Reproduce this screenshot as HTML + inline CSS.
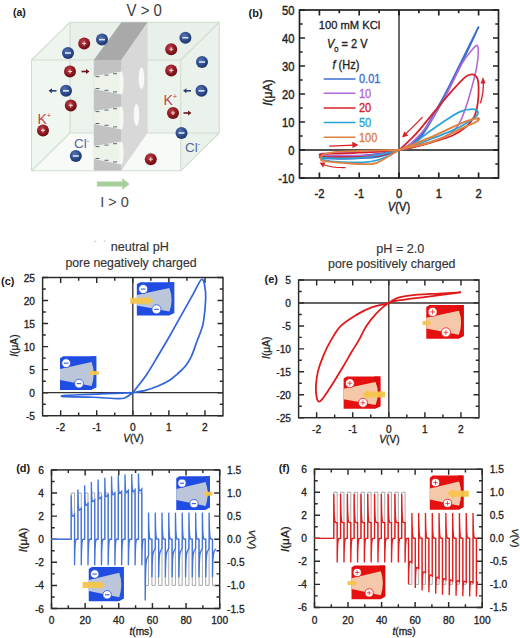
<!DOCTYPE html><html><head><meta charset="utf-8"><style>html,body{margin:0;padding:0;background:#fff;overflow:hidden}svg{display:block}</style></head><body>
<svg width="520" height="638" viewBox="0 0 520 638" font-family='"Liberation Sans", sans-serif'>
<defs>
<radialGradient id="gred" cx="0.4" cy="0.35" r="0.7"><stop offset="0" stop-color="#b8404a"/><stop offset="0.6" stop-color="#8c1820"/><stop offset="1" stop-color="#5e0c12"/></radialGradient>
<radialGradient id="gblue" cx="0.4" cy="0.35" r="0.7"><stop offset="0" stop-color="#5572b0"/><stop offset="0.6" stop-color="#2c4a8a"/><stop offset="1" stop-color="#1a3066"/></radialGradient>
</defs>
<rect width="520" height="638" fill="#fff"/>
<text transform="translate(13.00,16.00) scale(1,1.05)" font-size="10.5" text-anchor="start" fill="#1a1a1a" font-weight="bold" font-style="normal" >(a)</text>
<text transform="translate(144.20,15.60) scale(1,1.05)" font-size="15" text-anchor="middle" fill="#3a3a3a" font-weight="normal" font-style="normal" >V &gt; 0</text>
<path d="M70,22.3 H219.2 V133 H70Z" fill="#e9f0e9"/>
<path d="M31.5,60 L70,22.3 V133 L31.5,170.8Z" fill="#eef4ee"/>
<path d="M31.5,170.8 L70,133 H219.2 L180.8,170.8Z" fill="#fafbfa"/>
<path d="M180.8,60 L219.2,22.3 V133 L180.8,170.8Z" fill="#ebf2eb"/>
<rect x="31.5" y="60" width="149.3" height="110.8" fill="#f4f8f4" opacity="0.35"/>
<path d="M70,22.3 H219.2 V133 H70Z M31.5,60 L70,22.3 M219.2,22.3 L180.8,60 M31.5,170.8 L70,133 M219.2,133 L180.8,170.8 M31.5,60 H180.8 V170.8 H31.5Z" fill="none" stroke="#d0dcd0" stroke-width="1.1"/>
<path d="M93.8,60 L121.4,22.3 H147.7 L121.4,60Z" fill="#a9a9a9"/>
<path d="M121.4,60 L147.7,22.3 V132.8 L121.4,170.6Z" fill="#d8d8d8"/>
<rect x="93.8" y="60" width="27.6" height="110.6" fill="#c2c2c2"/>
<path d="M93.8,76 L121.4,71.5 V94.4 L93.8,89Z" fill="#eef3ea"/>
<ellipse cx="121.4" cy="83.0" rx="2.2" ry="11.5" fill="#f6f8f4"/>
<path d="M95.5,76.6h4M95.5,88.5h4" stroke="#5a6a7a" stroke-width="1"/>
<path d="M104.5,75.1h4M104.5,90.3h4" stroke="#5a6a7a" stroke-width="1"/>
<path d="M113.0,73.7h4M113.0,91.9h4" stroke="#5a6a7a" stroke-width="1"/>
<path d="M93.8,111 L121.4,106.5 V129.4 L93.8,124Z" fill="#eef3ea"/>
<ellipse cx="121.4" cy="118.0" rx="2.2" ry="11.5" fill="#f6f8f4"/>
<path d="M95.5,111.6h4M95.5,123.5h4" stroke="#5a6a7a" stroke-width="1"/>
<path d="M104.5,110.1h4M104.5,125.3h4" stroke="#5a6a7a" stroke-width="1"/>
<path d="M113.0,108.7h4M113.0,126.9h4" stroke="#5a6a7a" stroke-width="1"/>
<path d="M93.8,146 L121.4,141.5 V164.4 L93.8,159Z" fill="#eef3ea"/>
<ellipse cx="121.4" cy="152.9" rx="2.2" ry="11.5" fill="#f6f8f4"/>
<path d="M95.5,146.6h4M95.5,158.5h4" stroke="#5a6a7a" stroke-width="1"/>
<path d="M104.5,145.1h4M104.5,160.3h4" stroke="#5a6a7a" stroke-width="1"/>
<path d="M113.0,143.7h4M113.0,161.9h4" stroke="#5a6a7a" stroke-width="1"/>
<ellipse cx="141.5" cy="78.3" rx="2.8" ry="11" fill="#f8f8f8"/>
<ellipse cx="136.5" cy="115" rx="2.8" ry="11" fill="#f8f8f8"/>
<circle cx="84.2" cy="43.5" r="6.0" fill="url(#gred)"/>
<path d="M82.2,43.5h4M84.2,41.5v4" stroke="#f4d0d0" stroke-width="1.1"/>
<circle cx="70" cy="71.5" r="6.0" fill="url(#gred)"/>
<path d="M68.0,71.5h4M70.0,69.5v4" stroke="#f4d0d0" stroke-width="1.1"/>
<circle cx="70.8" cy="105.4" r="6.0" fill="url(#gred)"/>
<path d="M68.8,105.4h4M70.8,103.4v4" stroke="#f4d0d0" stroke-width="1.1"/>
<circle cx="43" cy="130.4" r="6.0" fill="url(#gred)"/>
<path d="M41.0,130.4h4M43.0,128.4v4" stroke="#f4d0d0" stroke-width="1.1"/>
<circle cx="171.2" cy="49.2" r="6.0" fill="url(#gred)"/>
<path d="M169.2,49.2h4M171.2,47.2v4" stroke="#f4d0d0" stroke-width="1.1"/>
<circle cx="171.2" cy="70.4" r="6.0" fill="url(#gred)"/>
<path d="M169.2,70.4h4M171.2,68.4v4" stroke="#f4d0d0" stroke-width="1.1"/>
<circle cx="173" cy="113" r="6.0" fill="url(#gred)"/>
<path d="M171.0,113.0h4M173.0,111.0v4" stroke="#f4d0d0" stroke-width="1.1"/>
<circle cx="150.8" cy="159.2" r="6.0" fill="url(#gred)"/>
<path d="M148.8,159.2h4M150.8,157.2v4" stroke="#f4d0d0" stroke-width="1.1"/>
<circle cx="102" cy="39.6" r="6.0" fill="url(#gblue)"/>
<path d="M99.0,39.6h6" stroke="#dde4f4" stroke-width="1.6"/>
<circle cx="68" cy="53" r="6.0" fill="url(#gblue)"/>
<path d="M65.0,53.0h6" stroke="#dde4f4" stroke-width="1.6"/>
<circle cx="66" cy="90.8" r="6.0" fill="url(#gblue)"/>
<path d="M63.0,90.8h6" stroke="#dde4f4" stroke-width="1.6"/>
<circle cx="75.8" cy="156" r="6.0" fill="url(#gblue)"/>
<path d="M72.8,156.0h6" stroke="#dde4f4" stroke-width="1.6"/>
<circle cx="185.4" cy="37.7" r="6.0" fill="url(#gblue)"/>
<path d="M182.4,37.7h6" stroke="#dde4f4" stroke-width="1.6"/>
<circle cx="202" cy="62" r="6.0" fill="url(#gblue)"/>
<path d="M199.0,62.0h6" stroke="#dde4f4" stroke-width="1.6"/>
<circle cx="201.5" cy="90.8" r="6.0" fill="url(#gblue)"/>
<path d="M198.5,90.8h6" stroke="#dde4f4" stroke-width="1.6"/>
<circle cx="181.5" cy="133" r="6.0" fill="url(#gblue)"/>
<path d="M178.5,133.0h6" stroke="#dde4f4" stroke-width="1.6"/>
<path d="M81.5,71.5 H86.5" stroke="#6a1a1e" stroke-width="1.6"/>
<path d="M89.5,71.5 L86.0,69.0 L86.0,74.0Z" fill="#6a1a1e"/>
<path d="M56.5,90.8 H51.5" stroke="#2a3e70" stroke-width="1.6"/>
<path d="M48.5,90.8 L52.0,88.3 L52.0,93.3Z" fill="#2a3e70"/>
<path d="M191,90.8 H186" stroke="#2a3e70" stroke-width="1.6"/>
<path d="M183,90.8 L186.5,88.3 L186.5,93.3Z" fill="#2a3e70"/>
<path d="M183.5,113 H188.5" stroke="#6a1a1e" stroke-width="1.6"/>
<path d="M191.5,113 L188.0,110.5 L188.0,115.5Z" fill="#6a1a1e"/>
<text transform="translate(37.50,123.50)" font-size="14" text-anchor="start" fill="#b84a48" font-weight="normal" font-style="normal" >K<tspan font-size="7.5" dy="-5.5">+</tspan></text>
<text transform="translate(163.50,104.50)" font-size="14" text-anchor="start" fill="#b84a48" font-weight="normal" font-style="normal" >K<tspan font-size="7.5" dy="-5.5">+</tspan></text>
<text transform="translate(74.00,148.00)" font-size="13.5" text-anchor="start" fill="#56689a" font-weight="normal" font-style="normal" >Cl<tspan font-size="7" dy="-5.5">-</tspan></text>
<text transform="translate(185.00,151.80)" font-size="13.5" text-anchor="start" fill="#56689a" font-weight="normal" font-style="normal" >Cl<tspan font-size="7" dy="-5.5">-</tspan></text>
<path d="M96.9,181.5 H122.3 V178 L129.5,184 L122.3,190 V186.5 H96.9Z" fill="#a6cf9c"/>
<text transform="translate(114.50,207.20) scale(1,1.03)" font-size="14.5" text-anchor="middle" fill="#444" font-weight="normal" font-style="normal" >I &gt; 0</text>
<text transform="translate(248.60,17.40) scale(1,1.05)" font-size="11" text-anchor="start" fill="#1a1a1a" font-weight="bold" font-style="normal" >(b)</text>
<rect x="299.50" y="10.00" width="199.00" height="168.00" fill="none" stroke="#222" stroke-width="1.7"/>
<path d="M319.40,178.00v-5.5 M319.40,10.00v5.5 M359.20,178.00v-5.5 M359.20,10.00v5.5 M399.00,178.00v-5.5 M399.00,10.00v5.5 M438.80,178.00v-5.5 M438.80,10.00v5.5 M478.60,178.00v-5.5 M478.60,10.00v5.5 M339.30,178.00v-3.2 M339.30,10.00v3.2 M379.10,178.00v-3.2 M379.10,10.00v3.2 M418.90,178.00v-3.2 M418.90,10.00v3.2 M458.70,178.00v-3.2 M458.70,10.00v3.2 M299.50,178.00h5.5 M498.50,178.00h-5.5 M299.50,150.00h5.5 M498.50,150.00h-5.5 M299.50,122.00h5.5 M498.50,122.00h-5.5 M299.50,94.00h5.5 M498.50,94.00h-5.5 M299.50,66.00h5.5 M498.50,66.00h-5.5 M299.50,38.00h5.5 M498.50,38.00h-5.5 M299.50,10.00h5.5 M498.50,10.00h-5.5 M299.50,164.00h3.2 M498.50,164.00h-3.2 M299.50,136.00h3.2 M498.50,136.00h-3.2 M299.50,108.00h3.2 M498.50,108.00h-3.2 M299.50,80.00h3.2 M498.50,80.00h-3.2 M299.50,52.00h3.2 M498.50,52.00h-3.2 M299.50,24.00h3.2 M498.50,24.00h-3.2 " stroke="#222" stroke-width="1.7" fill="none"/>
<path d="M399.00,10V178 M299.5,150.00H498.5" stroke="#1a1a1a" stroke-width="1.3"/>
<text transform="translate(294.50,14.60) scale(1,1.18)" font-size="11.2" text-anchor="end" fill="#222" font-weight="normal" font-style="normal" stroke="#222" stroke-width="0.35" >50</text>
<text transform="translate(294.50,42.60) scale(1,1.18)" font-size="11.2" text-anchor="end" fill="#222" font-weight="normal" font-style="normal" stroke="#222" stroke-width="0.35" >40</text>
<text transform="translate(294.50,70.60) scale(1,1.18)" font-size="11.2" text-anchor="end" fill="#222" font-weight="normal" font-style="normal" stroke="#222" stroke-width="0.35" >30</text>
<text transform="translate(294.50,98.60) scale(1,1.18)" font-size="11.2" text-anchor="end" fill="#222" font-weight="normal" font-style="normal" stroke="#222" stroke-width="0.35" >20</text>
<text transform="translate(294.50,126.60) scale(1,1.18)" font-size="11.2" text-anchor="end" fill="#222" font-weight="normal" font-style="normal" stroke="#222" stroke-width="0.35" >10</text>
<text transform="translate(294.50,154.60) scale(1,1.18)" font-size="11.2" text-anchor="end" fill="#222" font-weight="normal" font-style="normal" stroke="#222" stroke-width="0.35" >0</text>
<text transform="translate(294.50,182.60) scale(1,1.18)" font-size="11.2" text-anchor="end" fill="#222" font-weight="normal" font-style="normal" stroke="#222" stroke-width="0.35" >-10</text>
<text transform="translate(319.40,197.50) scale(1,1.18)" font-size="11.2" text-anchor="middle" fill="#222" font-weight="normal" font-style="normal" stroke="#222" stroke-width="0.35" >-2</text>
<text transform="translate(359.20,197.50) scale(1,1.18)" font-size="11.2" text-anchor="middle" fill="#222" font-weight="normal" font-style="normal" stroke="#222" stroke-width="0.35" >-1</text>
<text transform="translate(399.00,197.50) scale(1,1.18)" font-size="11.2" text-anchor="middle" fill="#222" font-weight="normal" font-style="normal" stroke="#222" stroke-width="0.35" >0</text>
<text transform="translate(438.80,197.50) scale(1,1.18)" font-size="11.2" text-anchor="middle" fill="#222" font-weight="normal" font-style="normal" stroke="#222" stroke-width="0.35" >1</text>
<text transform="translate(478.60,197.50) scale(1,1.18)" font-size="11.2" text-anchor="middle" fill="#222" font-weight="normal" font-style="normal" stroke="#222" stroke-width="0.35" >2</text>
<text transform="translate(399.00,210.50) scale(1,1.18)" font-size="11.2" text-anchor="middle" fill="#222" font-weight="normal" font-style="normal" stroke="#222" stroke-width="0.35" ><tspan font-style="italic">V</tspan>(V)</text>
<text transform="translate(271.70,92.70) rotate(-90)" font-size="12" text-anchor="middle" fill="#222" font-weight="normal" font-style="normal" stroke="#222" stroke-width="0.35" ><tspan font-style="italic">I</tspan>(μA)</text>
<text transform="translate(349.50,28.80) scale(1,1.05)" font-size="11.2" text-anchor="middle" fill="#222" font-weight="normal" font-style="normal" stroke="#222" stroke-width="0.3" >100 mM KCl</text>
<text transform="translate(327.00,47.50) scale(1,1.08)" font-size="11" text-anchor="start" fill="#222" font-weight="normal" font-style="normal" stroke="#222" stroke-width="0.3" ><tspan font-style="italic">V</tspan><tspan font-size="7.5" dy="4.5">0</tspan><tspan dy="-4.5"> = 2 V</tspan></text>
<text transform="translate(332.50,69.40) scale(1,1.1)" font-size="11" text-anchor="start" fill="#222" font-weight="normal" font-style="normal" stroke="#222" stroke-width="0.3" ><tspan font-style="italic">f</tspan> (Hz)</text>
<path d="M323.7,79H355.5" stroke="#3b6fd0" stroke-width="1.6"/>
<text transform="translate(359.00,83.30) scale(1,1.15)" font-size="11" text-anchor="start" fill="#3b6fd0" font-weight="normal" font-style="normal" stroke="#3b6fd0" stroke-width="0.3" >0.01</text>
<path d="M323.7,93.3H355.5" stroke="#b46ad8" stroke-width="1.6"/>
<text transform="translate(359.00,97.60) scale(1,1.15)" font-size="11" text-anchor="start" fill="#b46ad8" font-weight="normal" font-style="normal" stroke="#b46ad8" stroke-width="0.3" >10</text>
<path d="M323.7,108H355.5" stroke="#d8202a" stroke-width="1.6"/>
<text transform="translate(359.00,112.30) scale(1,1.15)" font-size="11" text-anchor="start" fill="#d8202a" font-weight="normal" font-style="normal" stroke="#d8202a" stroke-width="0.3" >20</text>
<path d="M323.7,122.5H355.5" stroke="#2aa4d8" stroke-width="1.6"/>
<text transform="translate(359.00,126.80) scale(1,1.15)" font-size="11" text-anchor="start" fill="#2aa4d8" font-weight="normal" font-style="normal" stroke="#2aa4d8" stroke-width="0.3" >50</text>
<path d="M323.7,137.2H355.5" stroke="#de8040" stroke-width="1.6"/>
<text transform="translate(359.00,141.50) scale(1,1.15)" font-size="11" text-anchor="start" fill="#de8040" font-weight="normal" font-style="normal" stroke="#de8040" stroke-width="0.3" >100</text>
<text transform="translate(1.00,284.50) scale(1,1.05)" font-size="11" text-anchor="start" fill="#1a1a1a" font-weight="bold" font-style="normal" >(c)</text>
<circle cx="95.4" cy="241.4" r="0.9" fill="#d0d0d0"/><circle cx="104.6" cy="241.2" r="0.9" fill="#d8d8d8"/>
<text transform="translate(139.70,250.50) scale(1,1.03)" font-size="12.6" text-anchor="middle" fill="#333" font-weight="normal" font-style="normal" stroke="#333" stroke-width="0.15" >neutral pH</text>
<text transform="translate(131.00,267.20) scale(1,1.03)" font-size="12.3" text-anchor="middle" fill="#333" font-weight="normal" font-style="normal" stroke="#333" stroke-width="0.15" >pore negatively charged</text>
<rect x="42.60" y="277.50" width="180.40" height="138.20" fill="none" stroke="#2a2a2a" stroke-width="1.45"/>
<path d="M60.64,415.70v-5.5 M60.64,277.50v5.5 M96.72,415.70v-5.5 M96.72,277.50v5.5 M132.80,415.70v-5.5 M132.80,277.50v5.5 M168.88,415.70v-5.5 M168.88,277.50v5.5 M204.96,415.70v-5.5 M204.96,277.50v5.5 M78.68,415.70v-3.2 M78.68,277.50v3.2 M114.76,415.70v-3.2 M114.76,277.50v3.2 M150.84,415.70v-3.2 M150.84,277.50v3.2 M186.92,415.70v-3.2 M186.92,277.50v3.2 M42.60,415.70h5.5 M223.00,415.70h-5.5 M42.60,392.67h5.5 M223.00,392.67h-5.5 M42.60,369.63h5.5 M223.00,369.63h-5.5 M42.60,346.60h5.5 M223.00,346.60h-5.5 M42.60,323.57h5.5 M223.00,323.57h-5.5 M42.60,300.53h5.5 M223.00,300.53h-5.5 M42.60,277.50h5.5 M223.00,277.50h-5.5 M42.60,404.18h3.2 M223.00,404.18h-3.2 M42.60,381.15h3.2 M223.00,381.15h-3.2 M42.60,358.12h3.2 M223.00,358.12h-3.2 M42.60,335.08h3.2 M223.00,335.08h-3.2 M42.60,312.05h3.2 M223.00,312.05h-3.2 M42.60,289.02h3.2 M223.00,289.02h-3.2 " stroke="#2a2a2a" stroke-width="1.45" fill="none"/>
<path d="M132.80,277.5V415.7 M42.6,392.67H223" stroke="#333" stroke-width="1.35"/>
<text transform="translate(35.00,281.50) scale(1,1.1)" font-size="10.2" text-anchor="end" fill="#222" font-weight="normal" font-style="normal" stroke="#222" stroke-width="0.3" >25</text>
<text transform="translate(35.00,304.53) scale(1,1.1)" font-size="10.2" text-anchor="end" fill="#222" font-weight="normal" font-style="normal" stroke="#222" stroke-width="0.3" >20</text>
<text transform="translate(35.00,327.57) scale(1,1.1)" font-size="10.2" text-anchor="end" fill="#222" font-weight="normal" font-style="normal" stroke="#222" stroke-width="0.3" >15</text>
<text transform="translate(35.00,350.60) scale(1,1.1)" font-size="10.2" text-anchor="end" fill="#222" font-weight="normal" font-style="normal" stroke="#222" stroke-width="0.3" >10</text>
<text transform="translate(35.00,373.63) scale(1,1.1)" font-size="10.2" text-anchor="end" fill="#222" font-weight="normal" font-style="normal" stroke="#222" stroke-width="0.3" >5</text>
<text transform="translate(35.00,396.67) scale(1,1.1)" font-size="10.2" text-anchor="end" fill="#222" font-weight="normal" font-style="normal" stroke="#222" stroke-width="0.3" >0</text>
<text transform="translate(35.00,419.70) scale(1,1.1)" font-size="10.2" text-anchor="end" fill="#222" font-weight="normal" font-style="normal" stroke="#222" stroke-width="0.3" >-5</text>
<text transform="translate(60.64,431.00) scale(1,1.1)" font-size="10.2" text-anchor="middle" fill="#222" font-weight="normal" font-style="normal" stroke="#222" stroke-width="0.3" >-2</text>
<text transform="translate(96.72,431.00) scale(1,1.1)" font-size="10.2" text-anchor="middle" fill="#222" font-weight="normal" font-style="normal" stroke="#222" stroke-width="0.3" >-1</text>
<text transform="translate(132.80,431.00) scale(1,1.1)" font-size="10.2" text-anchor="middle" fill="#222" font-weight="normal" font-style="normal" stroke="#222" stroke-width="0.3" >0</text>
<text transform="translate(168.88,431.00) scale(1,1.1)" font-size="10.2" text-anchor="middle" fill="#222" font-weight="normal" font-style="normal" stroke="#222" stroke-width="0.3" >1</text>
<text transform="translate(204.96,431.00) scale(1,1.1)" font-size="10.2" text-anchor="middle" fill="#222" font-weight="normal" font-style="normal" stroke="#222" stroke-width="0.3" >2</text>
<text transform="translate(133.50,442.00) scale(1,1.1)" font-size="10.2" text-anchor="middle" fill="#222" font-weight="normal" font-style="normal" stroke="#222" stroke-width="0.3" ><tspan font-style="italic">V</tspan>(V)</text>
<text transform="translate(18.30,345.60) rotate(-90)" font-size="10.2" text-anchor="middle" fill="#222" font-weight="normal" font-style="normal" stroke="#222" stroke-width="0.3" ><tspan font-style="italic">I</tspan>(μA)</text>
<path d="M132.80,392.67 C135.09,389.67 142.30,380.84 146.51,374.70 C150.72,368.56 154.15,362.34 158.06,355.81 C161.96,349.29 166.05,342.38 169.96,335.54 C173.87,328.71 177.60,321.80 181.51,314.81 C185.42,307.83 190.47,299.00 193.41,293.62 C196.36,288.25 197.74,284.95 199.19,282.57 C200.63,280.19 201.17,278.96 202.07,279.34 C202.98,279.73 204.00,281.65 204.60,284.87 C205.20,288.10 205.86,292.63 205.68,298.69 C205.50,304.76 204.36,315.74 203.52,321.26 C202.67,326.79 201.71,328.56 200.63,331.86 C199.55,335.16 198.53,337.08 197.02,341.07 C195.52,345.06 193.53,351.67 191.61,355.81 C189.69,359.96 187.82,362.95 185.48,365.95 C183.13,368.94 180.19,371.40 177.54,373.78 C174.89,376.16 172.85,378.19 169.60,380.23 C166.35,382.26 162.08,384.30 158.06,385.99 C154.03,387.68 149.64,389.25 145.43,390.36 C141.22,391.48 134.90,392.28 132.80,392.67" fill="none" stroke="#3163dc" stroke-width="1.7"/>
<path d="M132.80,392.67 C131.60,393.47 127.99,396.51 125.58,397.50 C123.18,398.50 123.78,398.69 118.37,398.66 C112.96,398.62 101.83,397.62 93.11,397.27 C84.39,396.93 71.34,396.79 66.05,396.58 C60.76,396.38 61.36,396.22 61.36,396.03 C61.36,395.84 63.17,395.65 66.05,395.43 C68.94,395.22 73.57,394.97 78.68,394.74 C83.79,394.51 90.71,394.28 96.72,394.05 C102.73,393.82 108.75,393.59 114.76,393.36 C120.77,393.13 129.79,392.78 132.80,392.67" fill="none" stroke="#3163dc" stroke-width="1.7"/>
<path d="M136.85,284.20 L140.21,282.20 L174.20,282.20 L174.20,312.93 L168.60,315.60 L136.85,315.60Z" fill="#1f4ce2"/>
<path d="M167.85,282.20 L174.20,282.20 L174.20,312.93 L168.60,315.60Z" fill="#2350e0"/>
<path d="M136.85,294.89 L169.34,287.88 Q173.83,299.23 169.34,311.59 L136.85,305.58Z" fill="#bcc6da"/>
<circle cx="143.20" cy="289.05" r="4.56" fill="#fff" stroke="#1f4ce2" stroke-width="0.8"/>
<path d="M140.92,289.05h4.56" stroke="#1f4ce2" stroke-width="1.0"/>
<circle cx="156.46" cy="309.32" r="4.56" fill="#fff" stroke="#1f4ce2" stroke-width="0.8"/>
<path d="M154.18,309.32h4.56" stroke="#1f4ce2" stroke-width="1.0"/>
<path d="M130.30,297.75 H147.60 V295.95 L153.60,300.75 L147.60,305.55 V303.75 H130.30Z" fill="#f5c54a" opacity="0.95"/>
<path d="M60.00,358.27 L63.26,356.25 L96.25,356.25 L96.25,387.30 L90.81,390.00 L60.00,390.00Z" fill="#1f4ce2"/>
<path d="M90.09,356.25 L96.25,356.25 L96.25,387.30 L90.81,390.00Z" fill="#2350e0"/>
<path d="M60.00,369.07 L91.54,361.99 Q95.89,373.46 91.54,385.95 L60.00,379.88Z" fill="#bcc6da"/>
<circle cx="66.16" cy="363.17" r="4.42" fill="#fff" stroke="#1f4ce2" stroke-width="0.8"/>
<path d="M63.95,363.17h4.42" stroke="#1f4ce2" stroke-width="1.0"/>
<circle cx="79.03" cy="383.65" r="4.42" fill="#fff" stroke="#1f4ce2" stroke-width="0.8"/>
<path d="M76.82,383.65h4.42" stroke="#1f4ce2" stroke-width="1.0"/>
<path d="M98.75,371.00 H92.55 V369.20 L88.75,373.00 L92.55,376.80 V375.00 H98.75Z" fill="#f5c54a" opacity="0.95"/>
<text transform="translate(264.60,283.20) scale(1,1.05)" font-size="11" text-anchor="start" fill="#1a1a1a" font-weight="bold" font-style="normal" >(e)</text>
<text transform="translate(400.30,252.80) scale(1,1.03)" font-size="12.6" text-anchor="middle" fill="#333" font-weight="normal" font-style="normal" stroke="#333" stroke-width="0.15" >pH = 2.0</text>
<text transform="translate(391.80,268.20) scale(1,1.03)" font-size="12.4" text-anchor="middle" fill="#333" font-weight="normal" font-style="normal" stroke="#333" stroke-width="0.15" >pore positively charged</text>
<rect x="298.60" y="280.00" width="180.40" height="137.70" fill="none" stroke="#2a2a2a" stroke-width="1.45"/>
<path d="M316.64,417.70v-5.5 M316.64,280.00v5.5 M352.72,417.70v-5.5 M352.72,280.00v5.5 M388.80,417.70v-5.5 M388.80,280.00v5.5 M424.88,417.70v-5.5 M424.88,280.00v5.5 M460.96,417.70v-5.5 M460.96,280.00v5.5 M334.68,417.70v-3.2 M334.68,280.00v3.2 M370.76,417.70v-3.2 M370.76,280.00v3.2 M406.84,417.70v-3.2 M406.84,280.00v3.2 M442.92,417.70v-3.2 M442.92,280.00v3.2 M298.60,417.70h5.5 M479.00,417.70h-5.5 M298.60,394.75h5.5 M479.00,394.75h-5.5 M298.60,371.80h5.5 M479.00,371.80h-5.5 M298.60,348.85h5.5 M479.00,348.85h-5.5 M298.60,325.90h5.5 M479.00,325.90h-5.5 M298.60,302.95h5.5 M479.00,302.95h-5.5 M298.60,280.00h5.5 M479.00,280.00h-5.5 M298.60,406.22h3.2 M479.00,406.22h-3.2 M298.60,383.27h3.2 M479.00,383.27h-3.2 M298.60,360.32h3.2 M479.00,360.32h-3.2 M298.60,337.38h3.2 M479.00,337.38h-3.2 M298.60,314.43h3.2 M479.00,314.43h-3.2 M298.60,291.48h3.2 M479.00,291.48h-3.2 " stroke="#2a2a2a" stroke-width="1.45" fill="none"/>
<path d="M388.80,280V417.7 M298.6,302.95H479" stroke="#333" stroke-width="1.35"/>
<text transform="translate(291.00,284.00) scale(1,1.1)" font-size="10.2" text-anchor="end" fill="#222" font-weight="normal" font-style="normal" stroke="#222" stroke-width="0.3" >5</text>
<text transform="translate(291.00,306.95) scale(1,1.1)" font-size="10.2" text-anchor="end" fill="#222" font-weight="normal" font-style="normal" stroke="#222" stroke-width="0.3" >0</text>
<text transform="translate(291.00,329.90) scale(1,1.1)" font-size="10.2" text-anchor="end" fill="#222" font-weight="normal" font-style="normal" stroke="#222" stroke-width="0.3" >-5</text>
<text transform="translate(291.00,352.85) scale(1,1.1)" font-size="10.2" text-anchor="end" fill="#222" font-weight="normal" font-style="normal" stroke="#222" stroke-width="0.3" >-10</text>
<text transform="translate(291.00,375.80) scale(1,1.1)" font-size="10.2" text-anchor="end" fill="#222" font-weight="normal" font-style="normal" stroke="#222" stroke-width="0.3" >-15</text>
<text transform="translate(291.00,398.75) scale(1,1.1)" font-size="10.2" text-anchor="end" fill="#222" font-weight="normal" font-style="normal" stroke="#222" stroke-width="0.3" >-20</text>
<text transform="translate(291.00,421.70) scale(1,1.1)" font-size="10.2" text-anchor="end" fill="#222" font-weight="normal" font-style="normal" stroke="#222" stroke-width="0.3" >-25</text>
<text transform="translate(316.64,432.50) scale(1,1.1)" font-size="10.2" text-anchor="middle" fill="#222" font-weight="normal" font-style="normal" stroke="#222" stroke-width="0.3" >-2</text>
<text transform="translate(352.72,432.50) scale(1,1.1)" font-size="10.2" text-anchor="middle" fill="#222" font-weight="normal" font-style="normal" stroke="#222" stroke-width="0.3" >-1</text>
<text transform="translate(388.80,432.50) scale(1,1.1)" font-size="10.2" text-anchor="middle" fill="#222" font-weight="normal" font-style="normal" stroke="#222" stroke-width="0.3" >0</text>
<text transform="translate(424.88,432.50) scale(1,1.1)" font-size="10.2" text-anchor="middle" fill="#222" font-weight="normal" font-style="normal" stroke="#222" stroke-width="0.3" >1</text>
<text transform="translate(460.96,432.50) scale(1,1.1)" font-size="10.2" text-anchor="middle" fill="#222" font-weight="normal" font-style="normal" stroke="#222" stroke-width="0.3" >2</text>
<text transform="translate(389.50,443.00) scale(1,1.1)" font-size="10.2" text-anchor="middle" fill="#222" font-weight="normal" font-style="normal" stroke="#222" stroke-width="0.3" ><tspan font-style="italic">V</tspan>(V)</text>
<text transform="translate(270.00,347.80) rotate(-90)" font-size="10.2" text-anchor="middle" fill="#222" font-weight="normal" font-style="normal" stroke="#222" stroke-width="0.3" ><tspan font-style="italic">I</tspan>(μA)</text>
<path d="M460.96,292.39 C455.85,293.04 440.39,294.99 430.29,296.29 C420.19,297.60 407.26,299.09 400.35,300.20 C393.43,301.31 392.83,300.73 388.80,302.95 C384.77,305.17 379.90,309.68 376.17,313.51 C372.44,317.33 369.32,321.46 366.43,325.90 C363.54,330.34 361.38,335.69 358.85,340.13 C356.33,344.57 353.86,348.16 351.28,352.52 C348.69,356.88 345.92,361.93 343.34,366.29 C340.75,370.65 338.29,374.63 335.76,378.69 C333.24,382.74 330.47,387.18 328.19,390.62 C325.90,394.06 323.62,397.50 322.05,399.34 C320.49,401.18 319.71,402.02 318.80,401.63 C317.90,401.25 317.12,399.65 316.64,397.05 C316.16,394.44 315.68,390.39 315.92,386.03 C316.16,381.67 316.82,376.01 318.08,370.88 C319.35,365.76 321.33,360.40 323.50,355.28 C325.66,350.15 328.19,345.03 331.07,340.13 C333.96,335.23 336.60,330.11 340.81,325.90 C345.02,321.69 351.22,317.98 356.33,314.88 C361.44,311.79 366.07,309.30 371.48,307.31 C376.89,305.32 385.19,304.17 388.80,302.95 C392.41,301.73 391.02,300.96 393.13,299.97 C395.23,298.97 397.34,297.86 401.43,296.98 C405.52,296.10 411.35,295.26 417.66,294.69 C423.98,294.11 432.10,293.92 439.31,293.54 C446.53,293.16 457.35,292.58 460.96,292.39" fill="none" stroke="#e01a1a" stroke-width="1.8"/>
<path d="M426.25,307.02 L429.62,305.00 L463.75,305.00 L463.75,336.05 L458.12,338.75 L426.25,338.75Z" fill="#e61010"/>
<path d="M457.38,305.00 L463.75,305.00 L463.75,336.05 L458.12,338.75Z" fill="#dc0c0c"/>
<path d="M426.25,317.82 L458.88,310.74 Q463.38,322.21 458.88,334.70 L426.25,328.62Z" fill="#f4c8a8"/>
<circle cx="432.62" cy="311.92" r="4.58" fill="#fff" stroke="#e61010" stroke-width="0.8"/>
<path d="M430.11,311.92h5.03M432.62,309.40v5.03" stroke="#e61010" stroke-width="0.7"/>
<circle cx="445.94" cy="332.40" r="4.58" fill="#fff" stroke="#e61010" stroke-width="0.8"/>
<path d="M443.42,332.40h5.03M445.94,329.89v5.03" stroke="#e61010" stroke-width="0.7"/>
<path d="M422.50,321.00 H427.45 V319.20 L431.25,323.00 L427.45,326.80 V325.00 H422.50Z" fill="#f5c54a" opacity="0.95"/>
<path d="M343.60,378.53 L346.91,376.60 L380.40,376.60 L380.40,406.22 L374.88,408.80 L343.60,408.80Z" fill="#e61010"/>
<path d="M374.14,376.60 L380.40,376.60 L380.40,406.22 L374.88,408.80Z" fill="#dc0c0c"/>
<path d="M343.60,388.84 L375.62,382.07 Q380.03,393.02 375.62,404.94 L343.60,399.14Z" fill="#f4c8a8"/>
<circle cx="349.86" cy="383.20" r="4.49" fill="#fff" stroke="#e61010" stroke-width="0.8"/>
<path d="M347.39,383.20h4.94M349.86,380.73v4.94" stroke="#e61010" stroke-width="0.7"/>
<circle cx="362.92" cy="402.75" r="4.49" fill="#fff" stroke="#e61010" stroke-width="0.8"/>
<path d="M360.45,402.75h4.94M362.92,400.28v4.94" stroke="#e61010" stroke-width="0.7"/>
<path d="M385.00,391.60 H368.20 V389.80 L362.20,394.60 L368.20,399.40 V397.60 H385.00Z" fill="#f5c54a" opacity="0.95"/>
<path d="M399.00,150.00 C395.68,151.12 387.06,155.27 379.10,156.72 C371.14,158.17 360.53,158.40 351.24,158.68 C341.95,158.96 328.36,158.73 323.38,158.40 C318.40,158.07 318.74,157.00 321.39,156.72 C324.04,156.44 333.00,156.86 339.30,156.72 C345.60,156.58 352.57,156.39 359.20,155.88 C365.83,155.37 372.47,154.62 379.10,153.64 C385.73,152.66 395.68,150.61 399.00,150.00" fill="none" stroke="#3b6fd0" stroke-width="1.6" stroke-linejoin="round"/>
<path d="M399.00,150.00 C400.33,149.53 403.31,149.72 406.96,147.20 C410.61,144.68 415.12,142.63 420.89,134.88 C426.66,127.13 434.69,113.23 441.59,100.72 C448.48,88.21 456.38,71.60 462.28,59.84 C468.19,48.08 474.69,34.83 477.01,30.16 C479.33,25.49 478.67,26.61 476.21,31.84 C473.76,37.07 468.05,49.76 462.28,61.52 C456.51,73.28 448.48,89.89 441.59,102.40 C434.69,114.91 426.66,128.91 420.89,136.56 C415.12,144.21 410.61,146.08 406.96,148.32 C403.31,150.56 400.33,149.72 399.00,150.00" fill="none" stroke="#3b6fd0" stroke-width="2.0" stroke-linejoin="round"/>
<path d="M399.00,150.00 C395.68,150.75 387.06,153.55 379.10,154.48 C371.14,155.41 360.53,155.46 351.24,155.60 C341.95,155.74 328.36,155.65 323.38,155.32 C318.40,154.99 318.74,154.06 321.39,153.64 C324.04,153.22 333.00,153.03 339.30,152.80 C345.60,152.57 352.57,152.47 359.20,152.24 C365.83,152.01 372.47,151.77 379.10,151.40 C385.73,151.03 395.68,150.23 399.00,150.00" fill="none" stroke="#b46ad8" stroke-width="1.6" stroke-linejoin="round"/>
<path d="M399.00,150.00 C400.99,148.88 406.16,147.39 410.94,143.28 C415.72,139.17 422.02,132.97 427.66,125.36 C433.29,117.75 439.00,108.00 444.77,97.64 C450.54,87.28 457.64,71.27 462.28,63.20 C466.93,55.13 470.11,52.14 472.63,49.20 C475.15,46.26 476.48,44.63 477.41,45.56 C478.33,46.49 478.33,51.16 478.20,54.80 C478.07,58.44 477.47,62.73 476.61,67.40 C475.75,72.07 474.55,76.97 473.03,82.80 C471.50,88.63 469.51,96.10 467.46,102.40 C465.40,108.70 463.28,115.61 460.69,120.60 C458.10,125.59 455.71,129.23 451.93,132.36 C448.15,135.49 443.51,137.12 438.00,139.36 C432.50,141.60 425.40,144.03 418.90,145.80 C412.40,147.57 402.32,149.30 399.00,150.00" fill="none" stroke="#b46ad8" stroke-width="1.6" stroke-linejoin="round"/>
<path d="M399.00,150.00 C395.68,150.93 387.06,154.43 379.10,155.60 C371.14,156.77 360.53,156.81 351.24,157.00 C341.95,157.19 328.36,157.19 323.38,156.72 C318.40,156.25 318.74,154.71 321.39,154.20 C324.04,153.69 333.00,153.87 339.30,153.64 C345.60,153.41 352.57,153.13 359.20,152.80 C365.83,152.47 372.47,152.15 379.10,151.68 C385.73,151.21 395.68,150.28 399.00,150.00" fill="none" stroke="#d8202a" stroke-width="1.6" stroke-linejoin="round"/>
<path d="M399.00,150.00 C400.06,149.07 402.32,147.34 405.37,144.40 C408.42,141.46 412.47,137.82 417.31,132.36 C422.15,126.90 428.65,118.55 434.42,111.64 C440.19,104.73 446.76,96.71 451.93,90.92 C457.11,85.13 462.02,79.67 465.47,76.92 C468.92,74.17 470.64,74.12 472.63,74.40 C474.62,74.68 476.41,76.27 477.41,78.60 C478.40,80.93 478.53,84.34 478.60,88.40 C478.67,92.46 478.53,98.25 477.80,102.96 C477.07,107.67 476.28,112.62 474.22,116.68 C472.17,120.74 469.18,124.15 465.47,127.32 C461.75,130.49 457.70,133.15 451.93,135.72 C446.16,138.29 437.67,140.71 430.84,142.72 C424.01,144.73 416.25,146.55 410.94,147.76 C405.63,148.97 400.99,149.63 399.00,150.00" fill="none" stroke="#d8202a" stroke-width="1.8" stroke-linejoin="round"/>
<path d="M399.00,150.00 C397.01,151.12 391.70,154.81 387.06,156.72 C382.42,158.63 377.11,160.55 371.14,161.48 C365.17,162.41 357.87,162.37 351.24,162.32 C344.61,162.27 336.18,161.67 331.34,161.20 C326.50,160.73 323.65,160.08 322.19,159.52 C320.73,158.96 319.73,158.03 322.58,157.84 C325.44,157.65 333.20,158.40 339.30,158.40 C345.40,158.40 352.57,158.40 359.20,157.84 C365.83,157.28 372.47,156.35 379.10,155.04 C385.73,153.73 395.68,150.84 399.00,150.00" fill="none" stroke="#2aa4d8" stroke-width="1.6" stroke-linejoin="round"/>
<path d="M399.00,150.00 C400.92,149.35 406.03,148.74 410.54,146.08 C415.05,143.42 420.62,138.05 426.06,134.04 C431.50,130.03 437.47,125.73 443.18,122.00 C448.88,118.27 455.38,113.79 460.29,111.64 C465.20,109.49 469.71,109.12 472.63,109.12 C475.55,109.12 477.27,110.38 477.80,111.64 C478.33,112.90 477.87,114.67 475.81,116.68 C473.76,118.69 469.45,121.35 465.47,123.68 C461.49,126.01 457.11,128.35 451.93,130.68 C446.76,133.01 440.19,135.39 434.42,137.68 C428.65,139.97 423.21,142.35 417.31,144.40 C411.40,146.45 402.05,149.07 399.00,150.00" fill="none" stroke="#2aa4d8" stroke-width="1.8" stroke-linejoin="round"/>
<path d="M399.00,150.00 C398.00,150.58 395.42,152.05 393.03,153.50 C390.64,154.95 388.19,156.93 384.67,158.68 C381.16,160.43 378.97,163.30 371.94,164.00 C364.90,164.70 350.58,163.39 342.48,162.88 C334.39,162.37 326.96,161.67 323.38,160.92 C319.80,160.17 320.99,159.47 320.99,158.40 C320.99,157.33 320.33,155.60 323.38,154.48 C326.43,153.36 333.33,152.26 339.30,151.68 C345.27,151.10 352.57,151.19 359.20,150.98 C365.83,150.77 372.47,150.58 379.10,150.42 C385.73,150.26 395.68,150.07 399.00,150.00" fill="none" stroke="#de8040" stroke-width="1.8" stroke-linejoin="round"/>
<path d="M399.00,150.00 C404.90,147.62 424.21,140.11 434.42,135.72 C444.64,131.33 453.06,126.57 460.29,123.68 C467.52,120.79 475.22,118.64 477.80,118.36 C480.39,118.08 478.73,120.23 475.81,122.00 C472.90,123.77 467.19,125.83 460.29,129.00 C453.39,132.17 444.64,137.54 434.42,141.04 C424.21,144.54 404.90,148.51 399.00,150.00" fill="none" stroke="#de8040" stroke-width="2.0" stroke-linejoin="round"/>
<path d="M480.4,103.3 Q484,92 483.2,81" fill="none" stroke="#d8202a" stroke-width="1.3"/><path d="M483,77 L480.6,83.5 L485.6,83.5Z" fill="#d8202a"/>
<path d="M422.5,117.1 Q412,128 405,134.5" fill="none" stroke="#d8202a" stroke-width="1.3"/><path d="M402,137.5 L404.2,131.5 L408.2,135.8Z" fill="#d8202a"/>
<path d="M329.2,146.2 L354,145.2" fill="none" stroke="#d8202a" stroke-width="1.3"/><path d="M358.5,145 L352.2,141.8 L352.5,148Z" fill="#d8202a"/>
<path d="M345.6,167.7 Q333,168 323,164.5" fill="none" stroke="#d8202a" stroke-width="1.3"/><path d="M319.5,162.5 L325.5,162.5 L323,167.5Z" fill="#d8202a"/>
<text transform="translate(16.20,472.00) scale(1,1.05)" font-size="11" text-anchor="start" fill="#1a1a1a" font-weight="bold" font-style="normal" >(d)</text>
<rect x="51.50" y="469.90" width="168.20" height="138.60" fill="none" stroke="#2a2a2a" stroke-width="1.45"/>
<path d="M51.50,608.50v-5.5 M51.50,469.90v5.5 M85.14,608.50v-5.5 M85.14,469.90v5.5 M118.78,608.50v-5.5 M118.78,469.90v5.5 M152.42,608.50v-5.5 M152.42,469.90v5.5 M186.06,608.50v-5.5 M186.06,469.90v5.5 M219.70,608.50v-5.5 M219.70,469.90v5.5 M68.32,608.50v-3.2 M68.32,469.90v3.2 M101.96,608.50v-3.2 M101.96,469.90v3.2 M135.60,608.50v-3.2 M135.60,469.90v3.2 M169.24,608.50v-3.2 M169.24,469.90v3.2 M202.88,608.50v-3.2 M202.88,469.90v3.2 M51.50,608.50h5.5 M219.70,608.50h-5.5 M51.50,585.40h5.5 M219.70,585.40h-5.5 M51.50,562.30h5.5 M219.70,562.30h-5.5 M51.50,539.20h5.5 M219.70,539.20h-5.5 M51.50,516.10h5.5 M219.70,516.10h-5.5 M51.50,493.00h5.5 M219.70,493.00h-5.5 M51.50,469.90h5.5 M219.70,469.90h-5.5 M51.50,596.95h3.2 M219.70,596.95h-3.2 M51.50,573.85h3.2 M219.70,573.85h-3.2 M51.50,550.75h3.2 M219.70,550.75h-3.2 M51.50,527.65h3.2 M219.70,527.65h-3.2 M51.50,504.55h3.2 M219.70,504.55h-3.2 M51.50,481.45h3.2 M219.70,481.45h-3.2 " stroke="#2a2a2a" stroke-width="1.45" fill="none"/>
<polyline points="51.50,539.20 71.18,539.20 71.18,493.00 74.54,493.00 74.54,539.20 77.91,539.20 77.91,493.00 81.27,493.00 81.27,539.20 84.64,539.20 84.64,493.00 88.00,493.00 88.00,539.20 91.36,539.20 91.36,493.00 94.73,493.00 94.73,539.20 98.09,539.20 98.09,493.00 101.46,493.00 101.46,539.20 104.82,539.20 104.82,493.00 108.18,493.00 108.18,539.20 111.55,539.20 111.55,493.00 114.91,493.00 114.91,539.20 118.28,539.20 118.28,493.00 121.64,493.00 121.64,539.20 125.00,539.20 125.00,493.00 128.37,493.00 128.37,539.20 131.73,539.20 131.73,493.00 135.10,493.00 135.10,539.20 138.46,539.20 138.46,493.00 141.82,493.00 141.82,539.20 145.19,539.20 145.19,585.40 148.55,585.40 148.55,539.20 151.92,539.20 151.92,585.40 155.28,585.40 155.28,539.20 158.64,539.20 158.64,585.40 162.01,585.40 162.01,539.20 165.37,539.20 165.37,585.40 168.74,585.40 168.74,539.20 172.10,539.20 172.10,585.40 175.46,585.40 175.46,539.20 178.83,539.20 178.83,585.40 182.19,585.40 182.19,539.20 185.56,539.20 185.56,585.40 188.92,585.40 188.92,539.20 192.28,539.20 192.28,585.40 195.65,585.40 195.65,539.20 199.01,539.20 199.01,585.40 202.38,585.40 202.38,539.20 205.74,539.20 205.74,585.40 209.10,585.40 209.10,539.20 212.47,539.20 212.47,585.40 215.66,585.40" fill="none" stroke="#a9a9a9" stroke-width="1.0" stroke-linejoin="miter" stroke-miterlimit="20"/>
<polyline points="51.50,539.20 51.55,539.20 51.62,539.20 51.70,539.20 51.84,539.20 52.00,539.20 52.26,539.20 52.59,539.20 53.01,539.20 53.69,539.20 54.36,539.20 55.20,539.20 56.55,539.20 71.18,539.20 71.18,495.31 71.23,498.25 71.30,501.57 71.38,504.92 71.52,508.86 71.68,512.05 71.94,514.63 72.27,515.96 72.69,516.23 73.37,515.73 74.04,514.97 74.54,514.37 74.54,565.19 74.59,561.87 74.66,558.11 74.75,554.26 74.88,549.67 75.05,545.85 75.30,542.56 75.64,540.55 76.06,539.63 76.73,539.27 77.40,539.21 77.91,539.20 77.91,489.57 77.96,492.46 78.03,495.72 78.11,499.01 78.24,502.89 78.41,506.02 78.66,508.55 79.00,509.85 79.42,510.11 80.09,509.60 80.77,508.83 81.27,508.23 81.27,565.19 81.32,561.87 81.39,558.11 81.47,554.26 81.61,549.67 81.78,545.85 82.03,542.56 82.36,540.55 82.79,539.63 83.46,539.27 84.13,539.21 84.64,539.20 84.64,485.25 84.69,488.08 84.75,491.28 84.84,494.51 84.97,498.30 85.14,501.36 85.39,503.83 85.73,505.10 86.15,505.34 86.82,504.82 87.49,504.06 88.00,503.46 88.00,565.19 88.05,561.87 88.12,558.11 88.20,554.26 88.34,549.67 88.50,545.85 88.76,542.56 89.09,540.55 89.51,539.63 90.19,539.27 90.86,539.21 91.36,539.20 91.36,482.01 91.41,484.78 91.48,487.91 91.57,491.06 91.70,494.77 91.87,497.77 92.12,500.18 92.46,501.40 92.88,501.63 93.55,501.10 94.22,500.34 94.73,499.74 94.73,565.19 94.78,561.87 94.85,558.11 94.93,554.26 95.06,549.67 95.23,545.85 95.48,542.56 95.82,540.55 96.24,539.63 96.91,539.27 97.59,539.21 98.09,539.20 98.09,479.58 98.14,482.29 98.21,485.35 98.29,488.43 98.43,492.06 98.60,494.99 98.85,497.34 99.18,498.53 99.61,498.74 100.28,498.21 100.95,497.44 101.46,496.84 101.46,565.19 101.51,561.87 101.57,558.11 101.66,554.26 101.79,549.67 101.96,545.85 102.21,542.56 102.55,540.55 102.97,539.63 103.64,539.27 104.31,539.21 104.82,539.20 104.82,477.75 104.87,480.40 104.94,483.40 105.02,486.42 105.16,489.98 105.32,492.84 105.58,495.14 105.91,496.30 106.33,496.49 107.01,495.95 107.68,495.19 108.18,494.59 108.18,565.19 108.23,561.87 108.30,558.11 108.39,554.26 108.52,549.67 108.69,545.85 108.94,542.56 109.28,540.55 109.70,539.63 110.37,539.27 111.04,539.21 111.55,539.20 111.55,476.37 111.60,478.98 111.67,481.92 111.75,484.89 111.88,488.37 112.05,491.18 112.30,493.43 112.64,494.56 113.06,494.74 113.73,494.20 114.41,493.43 114.91,492.83 114.91,565.19 114.96,561.87 115.03,558.11 115.11,554.26 115.25,549.67 115.42,545.85 115.67,542.56 116.00,540.55 116.43,539.63 117.10,539.27 117.77,539.21 118.28,539.20 118.28,475.34 118.33,477.90 118.39,480.79 118.48,483.71 118.61,487.14 118.78,489.90 119.03,492.11 119.37,493.21 119.79,493.38 120.46,492.83 121.13,492.06 121.64,491.46 121.64,565.19 121.69,561.87 121.76,558.11 121.84,554.26 121.98,549.67 122.14,545.85 122.40,542.56 122.73,540.55 123.15,539.63 123.83,539.27 124.50,539.21 125.00,539.20 125.00,474.56 125.05,477.09 125.12,479.94 125.21,482.82 125.34,486.19 125.51,488.91 125.76,491.08 126.10,492.16 126.52,492.32 127.19,491.77 127.86,491.00 128.37,490.40 128.37,565.19 128.42,561.87 128.49,558.11 128.57,554.26 128.70,549.67 128.87,545.85 129.12,542.56 129.46,540.55 129.88,539.63 130.55,539.27 131.23,539.21 131.73,539.20 131.73,473.98 131.78,476.47 131.85,479.29 131.93,482.13 132.07,485.46 132.24,488.14 132.49,490.28 132.82,491.34 133.25,491.49 133.92,490.94 134.59,490.17 135.10,489.57 135.10,565.19 135.15,561.87 135.21,558.11 135.30,554.26 135.43,549.67 135.60,545.85 135.85,542.56 136.19,540.55 136.61,539.63 137.28,539.27 137.95,539.21 138.46,539.20 138.46,473.54 138.51,476.01 138.58,478.79 138.66,481.60 138.80,484.90 138.96,487.55 139.22,489.66 139.55,490.71 139.97,490.85 140.65,490.29 141.32,489.52 141.82,488.92 141.82,565.19 141.87,561.87 141.94,558.11 142.03,554.26 142.16,549.67 142.33,545.85 142.58,542.56 142.92,540.55 143.34,539.63 144.01,539.27 144.68,539.21 145.19,539.20 145.19,600.41 145.24,595.40 145.31,589.66 145.39,583.76 145.52,576.62 145.69,570.54 145.94,565.09 146.28,561.41 146.70,559.25 147.37,557.51 148.05,556.26 148.55,555.38 148.55,512.63 148.60,516.02 148.67,519.87 148.75,523.80 148.89,528.50 149.06,532.41 149.31,535.76 149.64,537.82 150.07,538.76 150.74,539.13 151.41,539.19 151.92,539.20 151.92,577.31 151.97,574.36 152.03,570.96 152.12,567.46 152.25,563.18 152.42,559.48 152.67,556.07 153.01,553.64 153.43,552.05 154.10,550.53 154.77,549.32 155.28,548.44 155.28,512.63 155.33,516.02 155.40,519.87 155.48,523.80 155.62,528.50 155.78,532.41 156.04,535.76 156.37,537.82 156.79,538.76 157.47,539.13 158.14,539.19 158.64,539.20 158.64,577.31 158.69,574.36 158.76,570.96 158.85,567.46 158.98,563.18 159.15,559.48 159.40,556.07 159.74,553.64 160.16,552.05 160.83,550.53 161.50,549.32 162.01,548.44 162.01,512.63 162.06,516.02 162.13,519.87 162.21,523.80 162.34,528.50 162.51,532.41 162.76,535.76 163.10,537.82 163.52,538.76 164.19,539.13 164.87,539.19 165.37,539.20 165.37,577.31 165.42,574.36 165.49,570.96 165.57,567.46 165.71,563.18 165.88,559.48 166.13,556.07 166.46,553.64 166.89,552.05 167.56,550.53 168.23,549.32 168.74,548.44 168.74,512.63 168.79,516.02 168.85,519.87 168.94,523.80 169.07,528.50 169.24,532.41 169.49,535.76 169.83,537.82 170.25,538.76 170.92,539.13 171.59,539.19 172.10,539.20 172.10,577.31 172.15,574.36 172.22,570.96 172.30,567.46 172.44,563.18 172.60,559.48 172.86,556.07 173.19,553.64 173.61,552.05 174.29,550.53 174.96,549.32 175.46,548.44 175.46,512.63 175.51,516.02 175.58,519.87 175.67,523.80 175.80,528.50 175.97,532.41 176.22,535.76 176.56,537.82 176.98,538.76 177.65,539.13 178.32,539.19 178.83,539.20 178.83,577.31 178.88,574.36 178.95,570.96 179.03,567.46 179.16,563.18 179.33,559.48 179.58,556.07 179.92,553.64 180.34,552.05 181.01,550.53 181.69,549.32 182.19,548.44 182.19,512.63 182.24,516.02 182.31,519.87 182.39,523.80 182.53,528.50 182.70,532.41 182.95,535.76 183.28,537.82 183.71,538.76 184.38,539.13 185.05,539.19 185.56,539.20 185.56,577.31 185.61,574.36 185.67,570.96 185.76,567.46 185.89,563.18 186.06,559.48 186.31,556.07 186.65,553.64 187.07,552.05 187.74,550.53 188.41,549.32 188.92,548.44 188.92,512.63 188.97,516.02 189.04,519.87 189.12,523.80 189.26,528.50 189.42,532.41 189.68,535.76 190.01,537.82 190.43,538.76 191.11,539.13 191.78,539.19 192.28,539.20 192.28,577.31 192.33,574.36 192.40,570.96 192.49,567.46 192.62,563.18 192.79,559.48 193.04,556.07 193.38,553.64 193.80,552.05 194.47,550.53 195.14,549.32 195.65,548.44 195.65,512.63 195.70,516.02 195.77,519.87 195.85,523.80 195.98,528.50 196.15,532.41 196.40,535.76 196.74,537.82 197.16,538.76 197.83,539.13 198.51,539.19 199.01,539.20 199.01,577.31 199.06,574.36 199.13,570.96 199.21,567.46 199.35,563.18 199.52,559.48 199.77,556.07 200.10,553.64 200.53,552.05 201.20,550.53 201.87,549.32 202.38,548.44 202.38,512.63 202.43,516.02 202.49,519.87 202.58,523.80 202.71,528.50 202.88,532.41 203.13,535.76 203.47,537.82 203.89,538.76 204.56,539.13 205.23,539.19 205.74,539.20 205.74,577.31 205.79,574.36 205.86,570.96 205.94,567.46 206.08,563.18 206.24,559.48 206.50,556.07 206.83,553.64 207.25,552.05 207.93,550.53 208.60,549.32 209.10,548.44 209.10,512.63 209.15,516.02 209.22,519.87 209.31,523.80 209.44,528.50 209.61,532.41 209.86,535.76 210.20,537.82 210.62,538.76 211.29,539.13 211.96,539.19 212.47,539.20 212.47,577.31 212.52,574.36 212.59,570.96 212.67,567.46 212.80,563.18 212.97,559.48 213.22,556.07 213.56,553.64 213.98,552.05 214.65,550.53 215.33,549.32 215.66,548.73" fill="none" stroke="#4274dc" stroke-width="1.35" stroke-linejoin="miter" stroke-miterlimit="20"/>
<text transform="translate(44.00,473.90) scale(1,1.1)" font-size="10.2" text-anchor="end" fill="#222" font-weight="normal" font-style="normal" stroke="#222" stroke-width="0.3" >6</text>
<text transform="translate(44.00,497.00) scale(1,1.1)" font-size="10.2" text-anchor="end" fill="#222" font-weight="normal" font-style="normal" stroke="#222" stroke-width="0.3" >4</text>
<text transform="translate(44.00,520.10) scale(1,1.1)" font-size="10.2" text-anchor="end" fill="#222" font-weight="normal" font-style="normal" stroke="#222" stroke-width="0.3" >2</text>
<text transform="translate(44.00,543.20) scale(1,1.1)" font-size="10.2" text-anchor="end" fill="#222" font-weight="normal" font-style="normal" stroke="#222" stroke-width="0.3" >0</text>
<text transform="translate(44.00,566.30) scale(1,1.1)" font-size="10.2" text-anchor="end" fill="#222" font-weight="normal" font-style="normal" stroke="#222" stroke-width="0.3" >-2</text>
<text transform="translate(44.00,589.40) scale(1,1.1)" font-size="10.2" text-anchor="end" fill="#222" font-weight="normal" font-style="normal" stroke="#222" stroke-width="0.3" >-4</text>
<text transform="translate(44.00,612.50) scale(1,1.1)" font-size="10.2" text-anchor="end" fill="#222" font-weight="normal" font-style="normal" stroke="#222" stroke-width="0.3" >-6</text>
<text transform="translate(51.50,623.80) scale(1,1.1)" font-size="10.2" text-anchor="middle" fill="#222" font-weight="normal" font-style="normal" stroke="#222" stroke-width="0.3" >0</text>
<text transform="translate(85.14,623.80) scale(1,1.1)" font-size="10.2" text-anchor="middle" fill="#222" font-weight="normal" font-style="normal" stroke="#222" stroke-width="0.3" >20</text>
<text transform="translate(118.78,623.80) scale(1,1.1)" font-size="10.2" text-anchor="middle" fill="#222" font-weight="normal" font-style="normal" stroke="#222" stroke-width="0.3" >40</text>
<text transform="translate(152.42,623.80) scale(1,1.1)" font-size="10.2" text-anchor="middle" fill="#222" font-weight="normal" font-style="normal" stroke="#222" stroke-width="0.3" >60</text>
<text transform="translate(186.06,623.80) scale(1,1.1)" font-size="10.2" text-anchor="middle" fill="#222" font-weight="normal" font-style="normal" stroke="#222" stroke-width="0.3" >80</text>
<text transform="translate(219.70,623.80) scale(1,1.1)" font-size="10.2" text-anchor="middle" fill="#222" font-weight="normal" font-style="normal" stroke="#222" stroke-width="0.3" >100</text>
<text transform="translate(227.00,473.90) scale(1,1.1)" font-size="10.2" text-anchor="start" fill="#222" font-weight="normal" font-style="normal" stroke="#222" stroke-width="0.3" >1.5</text>
<text transform="translate(227.00,497.00) scale(1,1.1)" font-size="10.2" text-anchor="start" fill="#222" font-weight="normal" font-style="normal" stroke="#222" stroke-width="0.3" >1.0</text>
<text transform="translate(227.00,520.10) scale(1,1.1)" font-size="10.2" text-anchor="start" fill="#222" font-weight="normal" font-style="normal" stroke="#222" stroke-width="0.3" >0.5</text>
<text transform="translate(227.00,543.20) scale(1,1.1)" font-size="10.2" text-anchor="start" fill="#222" font-weight="normal" font-style="normal" stroke="#222" stroke-width="0.3" >0.0</text>
<text transform="translate(227.00,566.30) scale(1,1.1)" font-size="10.2" text-anchor="start" fill="#222" font-weight="normal" font-style="normal" stroke="#222" stroke-width="0.3" >-0.5</text>
<text transform="translate(227.00,589.40) scale(1,1.1)" font-size="10.2" text-anchor="start" fill="#222" font-weight="normal" font-style="normal" stroke="#222" stroke-width="0.3" >-1.0</text>
<text transform="translate(227.00,612.50) scale(1,1.1)" font-size="10.2" text-anchor="start" fill="#222" font-weight="normal" font-style="normal" stroke="#222" stroke-width="0.3" >-1.5</text>
<text transform="translate(141.00,635.00) scale(1,1.1)" font-size="10.2" text-anchor="middle" fill="#222" font-weight="normal" font-style="normal" stroke="#222" stroke-width="0.3" ><tspan font-style="italic">t</tspan>(ms)</text>
<text transform="translate(27.00,540.00) rotate(-90)" font-size="11.3" text-anchor="middle" fill="#222" font-weight="normal" font-style="normal" stroke="#222" stroke-width="0.3" ><tspan font-style="italic">I</tspan>(μA)</text>
<text transform="translate(249.20,539.50) rotate(90)" font-size="9.7" text-anchor="middle" fill="#222" font-weight="normal" font-style="normal" stroke="#222" stroke-width="0.3" ><tspan font-style="italic">V</tspan>(V)</text>
<path d="M176.25,478.27 L179.29,476.25 L210.00,476.25 L210.00,507.30 L204.94,510.00 L176.25,510.00Z" fill="#1f4ce2"/>
<path d="M204.26,476.25 L210.00,476.25 L210.00,507.30 L204.94,510.00Z" fill="#2350e0"/>
<path d="M176.25,489.07 L205.61,481.99 Q209.66,493.46 205.61,505.95 L176.25,499.88Z" fill="#bcc6da"/>
<circle cx="181.99" cy="483.17" r="4.12" fill="#fff" stroke="#1f4ce2" stroke-width="0.8"/>
<path d="M179.93,483.17h4.12" stroke="#1f4ce2" stroke-width="1.0"/>
<circle cx="193.97" cy="503.65" r="4.12" fill="#fff" stroke="#1f4ce2" stroke-width="0.8"/>
<path d="M191.91,503.65h4.12" stroke="#1f4ce2" stroke-width="1.0"/>
<path d="M212.50,491.75 H207.55 V489.95 L203.75,493.75 L207.55,497.55 V495.75 H212.50Z" fill="#f5c54a" opacity="0.95"/>
<path d="M88.75,569.05 L91.90,567.00 L123.75,567.00 L123.75,598.51 L118.50,601.25 L88.75,601.25Z" fill="#1f4ce2"/>
<path d="M117.80,567.00 L123.75,567.00 L123.75,598.51 L118.50,601.25Z" fill="#2350e0"/>
<path d="M88.75,580.01 L119.20,572.82 Q123.40,584.47 119.20,597.14 L88.75,590.98Z" fill="#bcc6da"/>
<circle cx="94.70" cy="574.02" r="4.27" fill="#fff" stroke="#1f4ce2" stroke-width="0.8"/>
<path d="M92.56,574.02h4.27" stroke="#1f4ce2" stroke-width="1.0"/>
<circle cx="107.12" cy="594.81" r="4.27" fill="#fff" stroke="#1f4ce2" stroke-width="0.8"/>
<path d="M104.99,594.81h4.27" stroke="#1f4ce2" stroke-width="1.0"/>
<path d="M82.50,582.00 H99.00 V580.20 L105.00,585.00 L99.00,589.80 V588.00 H82.50Z" fill="#f5c54a" opacity="0.95"/>
<text transform="translate(278.70,472.00) scale(1,1.05)" font-size="11" text-anchor="start" fill="#1a1a1a" font-weight="bold" font-style="normal" >(f)</text>
<rect x="314.50" y="469.20" width="167.70" height="138.20" fill="none" stroke="#2a2a2a" stroke-width="1.45"/>
<path d="M314.50,607.40v-5.5 M314.50,469.20v5.5 M348.04,607.40v-5.5 M348.04,469.20v5.5 M381.58,607.40v-5.5 M381.58,469.20v5.5 M415.12,607.40v-5.5 M415.12,469.20v5.5 M448.66,607.40v-5.5 M448.66,469.20v5.5 M482.20,607.40v-5.5 M482.20,469.20v5.5 M331.27,607.40v-3.2 M331.27,469.20v3.2 M364.81,607.40v-3.2 M364.81,469.20v3.2 M398.35,607.40v-3.2 M398.35,469.20v3.2 M431.89,607.40v-3.2 M431.89,469.20v3.2 M465.43,607.40v-3.2 M465.43,469.20v3.2 M314.50,607.40h5.5 M482.20,607.40h-5.5 M314.50,584.37h5.5 M482.20,584.37h-5.5 M314.50,561.33h5.5 M482.20,561.33h-5.5 M314.50,538.30h5.5 M482.20,538.30h-5.5 M314.50,515.27h5.5 M482.20,515.27h-5.5 M314.50,492.23h5.5 M482.20,492.23h-5.5 M314.50,469.20h5.5 M482.20,469.20h-5.5 M314.50,595.88h3.2 M482.20,595.88h-3.2 M314.50,572.85h3.2 M482.20,572.85h-3.2 M314.50,549.82h3.2 M482.20,549.82h-3.2 M314.50,526.78h3.2 M482.20,526.78h-3.2 M314.50,503.75h3.2 M482.20,503.75h-3.2 M314.50,480.72h3.2 M482.20,480.72h-3.2 " stroke="#2a2a2a" stroke-width="1.45" fill="none"/>
<polyline points="314.50,538.30 333.79,538.30 333.79,492.23 337.18,492.23 337.18,538.30 340.58,538.30 340.58,492.23 343.97,492.23 343.97,538.30 347.37,538.30 347.37,492.23 350.77,492.23 350.77,538.30 354.16,538.30 354.16,492.23 357.56,492.23 357.56,538.30 360.95,538.30 360.95,492.23 364.35,492.23 364.35,538.30 367.74,538.30 367.74,492.23 371.14,492.23 371.14,538.30 374.54,538.30 374.54,492.23 377.93,492.23 377.93,538.30 381.33,538.30 381.33,492.23 384.72,492.23 384.72,538.30 388.12,538.30 388.12,492.23 391.52,492.23 391.52,538.30 394.91,538.30 394.91,492.23 398.31,492.23 398.31,538.30 401.70,538.30 401.70,492.23 405.10,492.23 405.10,538.30 408.50,538.30 408.50,584.37 411.89,584.37 411.89,538.30 415.29,538.30 415.29,584.37 418.68,584.37 418.68,538.30 422.08,538.30 422.08,584.37 425.48,584.37 425.48,538.30 428.87,538.30 428.87,584.37 432.27,584.37 432.27,538.30 435.66,538.30 435.66,584.37 439.06,584.37 439.06,538.30 442.46,538.30 442.46,584.37 445.85,584.37 445.85,538.30 449.25,538.30 449.25,584.37 452.64,584.37 452.64,538.30 456.04,538.30 456.04,584.37 459.43,584.37 459.43,538.30 462.83,538.30 462.83,584.37 466.23,584.37 466.23,538.30 469.62,538.30 469.62,584.37 473.02,584.37 473.02,538.30 476.41,538.30 476.41,584.37 478.18,584.37" fill="none" stroke="#a9a9a9" stroke-width="1.0" stroke-linejoin="miter" stroke-miterlimit="20"/>
<polyline points="314.50,538.30 314.55,538.30 314.62,538.30 314.70,538.30 314.84,538.30 315.00,538.30 315.25,538.30 315.59,538.30 316.01,538.30 316.68,538.30 317.35,538.30 318.19,538.30 319.53,538.30 333.79,538.30 333.79,493.96 333.84,497.63 333.90,501.81 333.99,506.07 334.12,511.15 334.29,515.39 334.54,519.03 334.88,521.25 335.29,522.27 335.97,522.67 336.64,522.74 337.18,522.75 337.18,562.49 337.23,559.40 337.30,555.89 337.38,552.32 337.52,548.04 337.68,544.48 337.94,541.43 338.27,539.56 338.69,538.70 339.36,538.37 340.03,538.31 340.58,538.30 340.58,493.96 340.63,497.63 340.69,501.81 340.78,506.07 340.91,511.15 341.08,515.39 341.33,519.03 341.67,521.25 342.09,522.27 342.76,522.67 343.43,522.74 343.97,522.75 343.97,562.49 344.02,559.40 344.09,555.89 344.17,552.32 344.31,548.04 344.48,544.48 344.73,541.43 345.06,539.56 345.48,538.70 346.15,538.37 346.82,538.31 347.37,538.30 347.37,493.96 347.42,497.63 347.49,501.81 347.57,506.07 347.70,511.15 347.87,515.39 348.12,519.03 348.46,521.25 348.88,522.27 349.55,522.67 350.22,522.74 350.77,522.75 350.77,562.49 350.82,559.40 350.88,555.89 350.97,552.32 351.10,548.04 351.27,544.48 351.52,541.43 351.86,539.56 352.27,538.70 352.95,538.37 353.62,538.31 354.16,538.30 354.16,493.96 354.21,497.63 354.28,501.81 354.36,506.07 354.50,511.15 354.66,515.39 354.92,519.03 355.25,521.25 355.67,522.27 356.34,522.67 357.01,522.74 357.56,522.75 357.56,562.49 357.61,559.40 357.67,555.89 357.76,552.32 357.89,548.04 358.06,544.48 358.31,541.43 358.65,539.56 359.07,538.70 359.74,538.37 360.41,538.31 360.95,538.30 360.95,493.96 361.00,497.63 361.07,501.81 361.15,506.07 361.29,511.15 361.46,515.39 361.71,519.03 362.04,521.25 362.46,522.27 363.13,522.67 363.80,522.74 364.35,522.75 364.35,562.49 364.40,559.40 364.47,555.89 364.55,552.32 364.68,548.04 364.85,544.48 365.10,541.43 365.44,539.56 365.86,538.70 366.53,538.37 367.20,538.31 367.74,538.30 367.74,493.96 367.80,497.63 367.86,501.81 367.95,506.07 368.08,511.15 368.25,515.39 368.50,519.03 368.83,521.25 369.25,522.27 369.92,522.67 370.60,522.74 371.14,522.75 371.14,562.49 371.19,559.40 371.26,555.89 371.34,552.32 371.48,548.04 371.64,544.48 371.90,541.43 372.23,539.56 372.65,538.70 373.32,538.37 373.99,538.31 374.54,538.30 374.54,493.96 374.59,497.63 374.65,501.81 374.74,506.07 374.87,511.15 375.04,515.39 375.29,519.03 375.63,521.25 376.05,522.27 376.72,522.67 377.39,522.74 377.93,522.75 377.93,562.49 377.98,559.40 378.05,555.89 378.13,552.32 378.27,548.04 378.44,544.48 378.69,541.43 379.02,539.56 379.44,538.70 380.11,538.37 380.78,538.31 381.33,538.30 381.33,493.96 381.38,497.63 381.45,501.81 381.53,506.07 381.66,511.15 381.83,515.39 382.08,519.03 382.42,521.25 382.84,522.27 383.51,522.67 384.18,522.74 384.72,522.75 384.72,562.49 384.77,559.40 384.84,555.89 384.93,552.32 385.06,548.04 385.23,544.48 385.48,541.43 385.81,539.56 386.23,538.70 386.90,538.37 387.58,538.31 388.12,538.30 388.12,493.96 388.17,497.63 388.24,501.81 388.32,506.07 388.46,511.15 388.62,515.39 388.87,519.03 389.21,521.25 389.63,522.27 390.30,522.67 390.97,522.74 391.52,522.75 391.52,562.49 391.57,559.40 391.63,555.89 391.72,552.32 391.85,548.04 392.02,544.48 392.27,541.43 392.61,539.56 393.03,538.70 393.70,538.37 394.37,538.31 394.91,538.30 394.91,493.96 394.96,497.63 395.03,501.81 395.11,506.07 395.25,511.15 395.42,515.39 395.67,519.03 396.00,521.25 396.42,522.27 397.09,522.67 397.76,522.74 398.31,522.75 398.31,562.49 398.36,559.40 398.43,555.89 398.51,552.32 398.64,548.04 398.81,544.48 399.06,541.43 399.40,539.56 399.82,538.70 400.49,538.37 401.16,538.31 401.70,538.30 401.70,493.96 401.75,497.63 401.82,501.81 401.91,506.07 402.04,511.15 402.21,515.39 402.46,519.03 402.79,521.25 403.21,522.27 403.88,522.67 404.55,522.74 405.10,522.75 405.10,562.49 405.15,559.40 405.22,555.89 405.30,552.32 405.44,548.04 405.60,544.48 405.85,541.43 406.19,539.56 406.61,538.70 407.28,538.37 407.95,538.31 408.50,538.30 408.50,584.37 408.55,581.29 408.61,577.80 408.70,574.26 408.83,570.06 409.00,566.62 409.25,563.75 409.59,562.14 410.01,561.59 410.68,561.72 411.35,562.13 411.89,562.49 411.89,512.96 411.94,516.19 412.01,519.87 412.09,523.62 412.23,528.09 412.39,531.82 412.65,535.02 412.98,536.98 413.40,537.88 414.07,538.23 414.74,538.29 415.29,538.30 415.29,587.96 415.34,585.19 415.41,582.06 415.49,578.88 415.62,575.11 415.79,572.03 416.04,569.48 416.38,568.05 416.80,567.59 417.47,567.75 418.14,568.16 418.68,568.53 418.68,512.96 418.73,516.19 418.80,519.87 418.88,523.62 419.02,528.09 419.19,531.82 419.44,535.02 419.77,536.98 420.19,537.88 420.86,538.23 421.53,538.29 422.08,538.30 422.08,590.53 422.13,587.99 422.20,585.11 422.28,582.19 422.41,578.74 422.58,575.91 422.83,573.58 423.17,572.29 423.59,571.89 424.26,572.08 424.93,572.49 425.48,572.85 425.48,512.96 425.53,516.19 425.59,519.87 425.68,523.62 425.81,528.09 425.98,531.82 426.23,535.02 426.57,536.98 426.98,537.88 427.66,538.23 428.33,538.29 428.87,538.30 428.87,592.37 428.92,589.99 428.99,587.29 429.07,584.56 429.21,581.33 429.37,578.69 429.63,576.52 429.96,575.33 430.38,574.97 431.05,575.18 431.72,575.59 432.27,575.95 432.27,512.96 432.32,516.19 432.38,519.87 432.47,523.62 432.60,528.09 432.77,531.82 433.02,535.02 433.36,536.98 433.78,537.88 434.45,538.23 435.12,538.29 435.66,538.30 435.66,593.70 435.71,591.43 435.78,588.86 435.86,586.26 436.00,583.19 436.17,580.68 436.42,578.62 436.75,577.50 437.17,577.18 437.84,577.39 438.51,577.81 439.06,578.18 439.06,512.96 439.11,516.19 439.18,519.87 439.26,523.62 439.39,528.09 439.56,531.82 439.81,535.02 440.15,536.98 440.57,537.88 441.24,538.23 441.91,538.29 442.46,538.30 442.46,594.64 442.51,592.46 442.57,589.98 442.66,587.48 442.79,584.52 442.96,582.11 443.21,580.13 443.55,579.06 443.96,578.76 444.64,578.98 445.31,579.40 445.85,579.77 445.85,512.96 445.90,516.19 445.97,519.87 446.05,523.62 446.19,528.09 446.35,531.82 446.61,535.02 446.94,536.98 447.36,537.88 448.03,538.23 448.70,538.29 449.25,538.30 449.25,595.32 449.30,593.19 449.36,590.79 449.45,588.35 449.58,585.47 449.75,583.13 450.00,581.21 450.34,580.18 450.76,579.89 451.43,580.12 452.10,580.54 452.64,580.91 452.64,512.96 452.69,516.19 452.76,519.87 452.84,523.62 452.98,528.09 453.15,531.82 453.40,535.02 453.73,536.98 454.15,537.88 454.82,538.23 455.49,538.29 456.04,538.30 456.04,595.81 456.09,593.72 456.16,591.36 456.24,588.98 456.37,586.16 456.54,583.87 456.79,581.99 457.13,580.98 457.55,580.70 458.22,580.94 458.89,581.36 459.43,581.73 459.43,512.96 459.49,516.19 459.55,519.87 459.64,523.62 459.77,528.09 459.94,531.82 460.19,535.02 460.52,536.98 460.94,537.88 461.61,538.23 462.29,538.29 462.83,538.30 462.83,596.15 462.88,594.10 462.95,591.78 463.03,589.42 463.17,586.65 463.33,584.39 463.59,582.54 463.92,581.55 464.34,581.28 465.01,581.53 465.68,581.95 466.23,582.31 466.23,512.96 466.28,516.19 466.34,519.87 466.43,523.62 466.56,528.09 466.73,531.82 466.98,535.02 467.32,536.98 467.74,537.88 468.41,538.23 469.08,538.29 469.62,538.30 469.62,596.40 469.67,594.37 469.74,592.07 469.82,589.74 469.96,587.00 470.13,584.77 470.38,582.94 470.71,581.96 471.13,581.70 471.80,581.94 472.47,582.37 473.02,582.73 473.02,512.96 473.07,516.19 473.14,519.87 473.22,523.62 473.35,528.09 473.52,531.82 473.77,535.02 474.11,536.98 474.53,537.88 475.20,538.23 475.87,538.29 476.41,538.30 476.41,596.58 476.46,594.57 476.53,592.28 476.62,589.97 476.75,587.25 476.92,585.04 477.17,583.22 477.50,582.25 477.92,582.00 478.18,582.05" fill="none" stroke="#e41c1c" stroke-width="1.35" stroke-linejoin="miter" stroke-miterlimit="20"/>
<text transform="translate(307.00,473.20) scale(1,1.1)" font-size="10.2" text-anchor="end" fill="#222" font-weight="normal" font-style="normal" stroke="#222" stroke-width="0.3" >6</text>
<text transform="translate(307.00,496.23) scale(1,1.1)" font-size="10.2" text-anchor="end" fill="#222" font-weight="normal" font-style="normal" stroke="#222" stroke-width="0.3" >4</text>
<text transform="translate(307.00,519.27) scale(1,1.1)" font-size="10.2" text-anchor="end" fill="#222" font-weight="normal" font-style="normal" stroke="#222" stroke-width="0.3" >2</text>
<text transform="translate(307.00,542.30) scale(1,1.1)" font-size="10.2" text-anchor="end" fill="#222" font-weight="normal" font-style="normal" stroke="#222" stroke-width="0.3" >0</text>
<text transform="translate(307.00,565.33) scale(1,1.1)" font-size="10.2" text-anchor="end" fill="#222" font-weight="normal" font-style="normal" stroke="#222" stroke-width="0.3" >-2</text>
<text transform="translate(307.00,588.37) scale(1,1.1)" font-size="10.2" text-anchor="end" fill="#222" font-weight="normal" font-style="normal" stroke="#222" stroke-width="0.3" >-4</text>
<text transform="translate(307.00,611.40) scale(1,1.1)" font-size="10.2" text-anchor="end" fill="#222" font-weight="normal" font-style="normal" stroke="#222" stroke-width="0.3" >-6</text>
<text transform="translate(314.50,623.80) scale(1,1.1)" font-size="10.2" text-anchor="middle" fill="#222" font-weight="normal" font-style="normal" stroke="#222" stroke-width="0.3" >0</text>
<text transform="translate(348.04,623.80) scale(1,1.1)" font-size="10.2" text-anchor="middle" fill="#222" font-weight="normal" font-style="normal" stroke="#222" stroke-width="0.3" >20</text>
<text transform="translate(381.58,623.80) scale(1,1.1)" font-size="10.2" text-anchor="middle" fill="#222" font-weight="normal" font-style="normal" stroke="#222" stroke-width="0.3" >40</text>
<text transform="translate(415.12,623.80) scale(1,1.1)" font-size="10.2" text-anchor="middle" fill="#222" font-weight="normal" font-style="normal" stroke="#222" stroke-width="0.3" >60</text>
<text transform="translate(448.66,623.80) scale(1,1.1)" font-size="10.2" text-anchor="middle" fill="#222" font-weight="normal" font-style="normal" stroke="#222" stroke-width="0.3" >80</text>
<text transform="translate(482.20,623.80) scale(1,1.1)" font-size="10.2" text-anchor="middle" fill="#222" font-weight="normal" font-style="normal" stroke="#222" stroke-width="0.3" >100</text>
<text transform="translate(489.70,473.20) scale(1,1.1)" font-size="10.2" text-anchor="start" fill="#222" font-weight="normal" font-style="normal" stroke="#222" stroke-width="0.3" >1.5</text>
<text transform="translate(489.70,496.23) scale(1,1.1)" font-size="10.2" text-anchor="start" fill="#222" font-weight="normal" font-style="normal" stroke="#222" stroke-width="0.3" >1.0</text>
<text transform="translate(489.70,519.27) scale(1,1.1)" font-size="10.2" text-anchor="start" fill="#222" font-weight="normal" font-style="normal" stroke="#222" stroke-width="0.3" >0.5</text>
<text transform="translate(489.70,542.30) scale(1,1.1)" font-size="10.2" text-anchor="start" fill="#222" font-weight="normal" font-style="normal" stroke="#222" stroke-width="0.3" >0.0</text>
<text transform="translate(489.70,565.33) scale(1,1.1)" font-size="10.2" text-anchor="start" fill="#222" font-weight="normal" font-style="normal" stroke="#222" stroke-width="0.3" >-0.5</text>
<text transform="translate(489.70,588.37) scale(1,1.1)" font-size="10.2" text-anchor="start" fill="#222" font-weight="normal" font-style="normal" stroke="#222" stroke-width="0.3" >-1.0</text>
<text transform="translate(489.70,611.40) scale(1,1.1)" font-size="10.2" text-anchor="start" fill="#222" font-weight="normal" font-style="normal" stroke="#222" stroke-width="0.3" >-1.5</text>
<text transform="translate(404.00,635.00) scale(1,1.1)" font-size="10.2" text-anchor="middle" fill="#222" font-weight="normal" font-style="normal" stroke="#222" stroke-width="0.3" ><tspan font-style="italic">t</tspan>(ms)</text>
<text transform="translate(289.20,539.20) rotate(-90)" font-size="11.8" text-anchor="middle" fill="#222" font-weight="normal" font-style="normal" stroke="#222" stroke-width="0.3" ><tspan font-style="italic">I</tspan>(μA)</text>
<text transform="translate(511.80,538.00) rotate(90)" font-size="9.5" text-anchor="middle" fill="#222" font-weight="normal" font-style="normal" stroke="#222" stroke-width="0.3" ><tspan font-style="italic">V</tspan>(V)</text>
<path d="M429.80,477.65 L432.83,475.60 L463.50,475.60 L463.50,507.06 L458.44,509.80 L429.80,509.80Z" fill="#e61010"/>
<path d="M457.77,475.60 L463.50,475.60 L463.50,507.06 L458.44,509.80Z" fill="#dc0c0c"/>
<path d="M429.80,488.60 L459.12,481.41 Q463.16,493.04 459.12,505.70 L429.80,499.54Z" fill="#f4c8a8"/>
<circle cx="435.53" cy="482.61" r="4.11" fill="#fff" stroke="#e61010" stroke-width="0.8"/>
<path d="M433.27,482.61h4.52M435.53,480.35v4.52" stroke="#e61010" stroke-width="0.7"/>
<circle cx="447.49" cy="503.37" r="4.11" fill="#fff" stroke="#e61010" stroke-width="0.8"/>
<path d="M445.23,503.37h4.52M447.49,501.11v4.52" stroke="#e61010" stroke-width="0.7"/>
<path d="M468.80,490.65 H453.30 V488.85 L447.30,493.65 L453.30,498.45 V496.65 H468.80Z" fill="#f5c54a" opacity="0.95"/>
<path d="M351.50,567.62 L354.53,565.60 L385.20,565.60 L385.20,596.51 L380.14,599.20 L351.50,599.20Z" fill="#e61010"/>
<path d="M379.47,565.60 L385.20,565.60 L385.20,596.51 L380.14,599.20Z" fill="#dc0c0c"/>
<path d="M351.50,578.37 L380.82,571.31 Q384.86,582.74 380.82,595.17 L351.50,589.12Z" fill="#f4c8a8"/>
<circle cx="357.23" cy="572.49" r="4.11" fill="#fff" stroke="#e61010" stroke-width="0.8"/>
<path d="M354.97,572.49h4.52M357.23,570.23v4.52" stroke="#e61010" stroke-width="0.7"/>
<circle cx="369.19" cy="592.88" r="4.11" fill="#fff" stroke="#e61010" stroke-width="0.8"/>
<path d="M366.93,592.88h4.52M369.19,590.62v4.52" stroke="#e61010" stroke-width="0.7"/>
<path d="M347.50,581.00 H353.20 V579.20 L357.00,583.00 L353.20,586.80 V585.00 H347.50Z" fill="#f5c54a" opacity="0.95"/>
</svg></body></html>
